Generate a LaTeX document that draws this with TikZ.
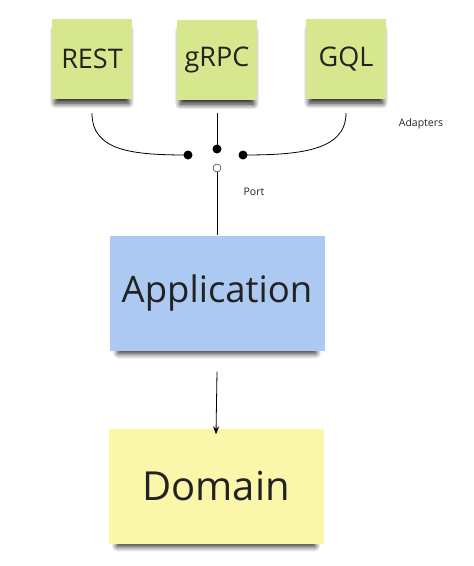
\documentclass[tikz,border=0pt]{standalone}
\usepackage{fontspec}
\setmainfont{Open Sans}
\usetikzlibrary{shadows.blur,arrows.meta}

\definecolor{notegreen}{RGB}{214,231,142}
\definecolor{noteblue}{RGB}{172,202,241}
\definecolor{noteyellow}{RGB}{250,247,171}
\definecolor{inkgray}{RGB}{34,34,34}

\begin{document}
\begin{tikzpicture}[x=1pt,y=-1pt,
sticky/.style={rectangle, inner sep=0pt, text=inkgray,
  blur shadow={shadow xshift=0pt, shadow yshift=-8pt, shadow scale=0.92, shadow opacity=90, shadow blur radius=6pt, shadow blur steps=12}},
adapter/.style={sticky, fill=notegreen, minimum width=80pt, minimum height=80pt, font=\fontsize{27}{32}\selectfont},
core/.style={sticky, minimum width=215pt, minimum height=115pt, font=\fontsize{36.5}{44}\selectfont},
dot/.style={circle, fill=black, inner sep=0pt, minimum size=9pt},
hollow/.style={circle, draw=black, fill=white, thin, inner sep=0pt, minimum size=8pt},
wire/.style={draw=black, line width=0.8pt},
small_text/.style={font=\fontsize{10.5}{12}\selectfont, text=inkgray}
]
\useasboundingbox (0,0) rectangle (474,566);

% adapters
\node[adapter](rest) at (92,59) {REST};
\node[adapter](grpc) at (217,60) {gRPC};
\node[adapter](gql) at (346,59) {GQL};
\node[small_text](adapters) at (421,124) {Adapters};

% port
\node[dot](rest_dot) at (188,155) {};
\node[dot](grpc_dot) at (217,149) {};
\node[dot](gql_dot) at (243,155) {};
\node[hollow](port) at (217,168) {};
\node[small_text](port_label) at (254,192) {Port};

% core
\node[core, fill=noteblue](application) at (217,293) {Application};
\node[core, fill=noteyellow, font=\fontsize{40}{46}\selectfont](domain) at (216,486) {Domain};

% wires
\draw[wire]([yshift=-14pt]rest.south) .. controls +(0,38) and +(-55,0) .. (rest_dot.center);
\draw[wire]([yshift=-13pt]grpc.south) -- (grpc_dot.center);
\draw[wire]([yshift=-14pt]gql.south) .. controls +(0,38) and +(55,0) .. (gql_dot.center);
\draw[wire](port.south) -- (application.north);
\draw[wire, -{Stealth[length=8pt,width=6pt]}]([yshift=-21pt]application.south) -- ([yshift=-6pt]domain.north);

\end{tikzpicture}
\end{document}
